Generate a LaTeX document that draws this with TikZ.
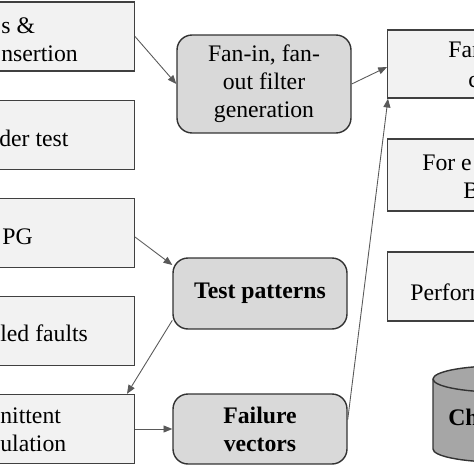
\documentclass[tikz,border=0pt]{standalone}
\usepackage{fontspec}
\setmainfont{Liberation Serif}
\usetikzlibrary{arrows.meta,calc}

\tikzset{
  stepbox/.style={draw=black!75, fill=black!5, line width=0.8pt, minimum width=4cm, minimum height=1.38cm},
  roundbox/.style={draw=black!80, fill=black!15, line width=0.8pt, rounded corners=0.3cm, minimum width=3.48cm, align=center},
  txt/.style={anchor=west, inner sep=0pt, align=left},
  link/.style={draw=black!65, line width=0.5pt, -{Triangle[length=5pt,width=4pt]}}
}

\begin{document}
\begin{tikzpicture}[x=0.02cm, y=-0.02cm, font=\fontsize{13.5}{16}\selectfont]
\useasboundingbox (0,0) rectangle (474,474);
\fill[white] (0,0) rectangle (474,474);
\clip (0,0) rectangle (474,474);

% Left column
\node[stepbox, anchor=east] (b1) at (135,36.5) {};
\node[stepbox, anchor=east] (b2) at (135,135) {};
\node[stepbox, anchor=east] (b3) at (135,233) {};
\node[stepbox, anchor=east] (b4) at (135,331) {};
\node[stepbox, anchor=east] (b5) at (135,429) {};
\node[txt] (t1) at (1,40) {s \&\\nsertion};
\node[txt] (t2) at (-1,138) {der test};
\node[txt] (t3) at (2,237) {PG};
\node[txt] (t4) at (0,333) {led faults};
\node[txt] (t5) at (0,430) {nittent\\ulation};

% Middle column
\node[roundbox, minimum height=1.96cm] (fan) at (264,84) {Fan-in, fan-\\out filter\\generation};
\node[roundbox, minimum height=1.42cm, font=\fontsize{13.5}{16}\selectfont\bfseries] (tp) at (260,293.5) {Test patterns};
\node[roundbox, minimum height=1.4cm, font=\fontsize{13.5}{16}\selectfont\bfseries] (fv) at (260,429) {Failure\\vectors};

% Right column
\node[stepbox, anchor=west, minimum height=1.36cm] (ra) at (387,64) {};
\node[stepbox, anchor=west, minimum height=1.44cm] (rb) at (387,175) {};
\node[stepbox, anchor=west] (rc) at (387,286.5) {};
\node[txt] (ta1) at (448,50) {Fan};
\node[txt] (ta2) at (468,82) {c};
\node[txt] (tb) at (422,177) {For e\\\hspace*{0.82cm}B};
\node[txt] (tc) at (410,292) {Perform};

% Database
\draw[draw=black!80, fill=black!35, line width=0.8pt] (433,379) -- (433,449)
  arc[start angle=180, end angle=360, x radius=1.3cm, y radius=0.26cm] -- (563,379)
  arc[start angle=0, end angle=180, x radius=1.3cm, y radius=0.26cm] -- cycle;
\draw[draw=black!80, line width=0.8pt] (433,379) arc[start angle=180, end angle=360, x radius=1.3cm, y radius=0.26cm];
\node[txt, font=\fontsize{13.5}{16}\selectfont\bfseries] (db) at (448,417) {Ch};

% Connectors
\draw[link] (b1.east) -- (fan.west);
\draw[link] (fan.east) -- ([yshift=-0.06cm]ra.west);
\draw[link] ([yshift=-0.08cm]b3.east) -- (tp.162);
\draw[link] (tp.197) -- ([xshift=-0.16cm]b5.north east);
\draw[link] (b5.east) -- (fv.west);
\draw[link] (fv.6) -- ([xshift=0.02cm]ra.south west);
\end{tikzpicture}
\end{document}
